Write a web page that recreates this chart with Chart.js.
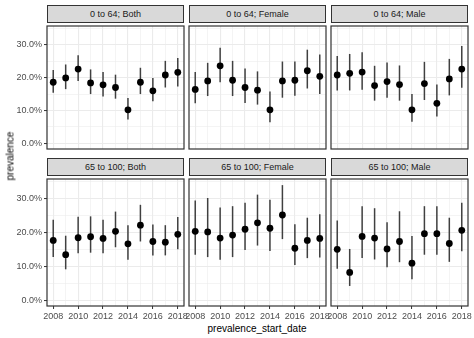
<!DOCTYPE html>
<html>
<head>
<meta charset="utf-8">
<script src="https://cdn.jsdelivr.net/npm/chart.js@4.4.0/dist/chart.umd.min.js"></script>
<style>
  body { margin: 0; width: 474px; height: 338px; background: #fff; position: relative; overflow: hidden;
         font-family: "Liberation Sans", Arial, sans-serif; }
  canvas { position: absolute; }
  .strip { position: absolute; box-sizing: border-box; background: #d9d9d9; border: 1px solid #333;
           font-size: 9px; color: #1a1a1a; text-align: center; }
  .title { position: absolute; font-size: 10px; font-weight: normal; color: #000; white-space: nowrap; }
</style>
</head>
<body>
<script>
// data (prevalence in %)
const years = [2008, 2009, 2010, 2011, 2012, 2013, 2014, 2015, 2016, 2017, 2018];
const facetLabels = ['0 to 64; Both', '0 to 64; Female', '0 to 64; Male',
                     '65 to 100; Both', '65 to 100; Female', '65 to 100; Male'];

const both064Est = [18.6, 19.9, 22.6, 18.4, 17.8, 17.0, 10.2, 18.6, 16.0, 20.8, 21.6];
const both064Lo  = [15.4, 16.5, 19.0, 15.0, 14.3, 13.6, 7.3, 15.0, 12.8, 17.0, 17.3];
const both064Hi  = [22.3, 24.0, 26.8, 22.5, 21.7, 20.9, 13.8, 23.0, 19.9, 25.1, 26.0];

const female064Est = [16.4, 19.0, 23.6, 19.2, 17.0, 16.2, 10.2, 19.0, 19.2, 22.1, 20.4];
const female064Lo  = [12.2, 14.4, 18.6, 14.4, 12.3, 11.8, 6.4, 13.9, 14.5, 16.7, 15.0];
const female064Hi  = [21.7, 24.5, 29.1, 25.1, 22.8, 21.9, 15.8, 24.9, 24.9, 28.5, 27.0];

const male064Est = [20.8, 21.3, 21.7, 17.6, 18.8, 17.9, 10.2, 18.2, 12.2, 19.6, 22.6];
const male064Lo  = [16.1, 16.1, 16.3, 13.0, 13.9, 13.0, 6.6, 13.2, 8.2, 14.6, 16.9];
const male064Hi  = [26.6, 27.2, 27.7, 23.6, 24.6, 23.7, 15.0, 24.8, 17.9, 25.7, 29.6];

const both65Est = [17.6, 13.4, 18.4, 18.7, 18.2, 20.3, 16.6, 22.1, 17.3, 17.1, 19.4];
const both65Lo  = [12.7, 9.1, 13.8, 14.0, 13.8, 15.6, 11.9, 17.3, 13.2, 13.2, 15.0];
const both65Hi  = [23.7, 19.0, 24.6, 24.7, 23.7, 26.1, 22.1, 28.1, 22.3, 22.1, 24.5];

const female65Est = [20.3, 20.1, 18.3, 19.2, 20.9, 22.8, 21.2, 25.1, 15.3, 17.6, 18.2];
const female65Lo  = [13.4, 12.7, 11.9, 12.7, 14.8, 16.1, 14.5, 18.0, 10.4, 12.4, 12.6];
const female65Hi  = [29.4, 30.1, 27.3, 27.7, 28.7, 31.1, 29.6, 33.9, 22.4, 24.3, 25.3];

const male65Est = [15.0, 8.2, 18.8, 18.3, 15.1, 17.3, 10.9, 19.6, 19.6, 16.7, 20.6];
const male65Lo  = [9.3, 4.2, 12.4, 12.0, 9.7, 11.2, 6.2, 13.4, 13.4, 11.3, 14.4];
const male65Hi  = [23.5, 15.1, 27.7, 27.1, 23.0, 26.2, 18.9, 27.7, 27.7, 24.3, 28.7];

const yTicks = [0, 5, 10, 15, 20, 25, 30, 35];
const xTicks = years;

const facets = [
  [both064Est, both064Lo, both064Hi], [female064Est, female064Lo, female064Hi], [male064Est, male064Lo, male064Hi],
  [both65Est, both65Lo, both65Hi], [female65Est, female65Lo, female65Hi], [male65Est, male65Lo, male65Hi]
];

// layout
const PANEL_W = 137, PANEL_H = 131, STRIP_H = 17, PAD = 12;
const colLeft = [47, 189, 331];
const rowTop = [22, 175];
const Y_AXIS_W = 47, X_AXIS_H = 16;

// error bars + panel border
const panelPlugin = {
  id: 'panel',
  beforeDatasetsDraw(chart, args, opts) {
    const { ctx, scales: { x, y } } = chart;
    ctx.save();
    ctx.strokeStyle = '#404040';
    ctx.lineWidth = 1.5;
    opts.lo.forEach((lo, i) => {
      const px = x.getPixelForValue(years[i]);
      ctx.beginPath();
      ctx.moveTo(px, y.getPixelForValue(lo));
      ctx.lineTo(px, y.getPixelForValue(opts.hi[i]));
      ctx.stroke();
    });
    ctx.restore();
  },
  afterDraw(chart) {
    const { ctx, chartArea: a } = chart;
    ctx.save();
    ctx.strokeStyle = '#333';
    ctx.lineWidth = 1.2;
    ctx.strokeRect(a.left, a.top, a.right - a.left, a.bottom - a.top);
    ctx.restore();
  }
};

function makePanel(idx) {
  const row = Math.floor(idx / 3), col = idx % 3;
  const showY = col === 0, showX = row === 1;
  const yW = showY ? Y_AXIS_W : 0, xH = showX ? X_AXIS_H : 0;
  const [est, lo, hi] = facets[idx];

  const strip = document.createElement('div');
  strip.className = 'strip';
  strip.style.left = colLeft[col] + 'px';
  strip.style.top = (rowTop[row] - STRIP_H) + 'px';
  strip.style.width = PANEL_W + 'px';
  strip.style.height = (STRIP_H + 1) + 'px';
  strip.style.lineHeight = (STRIP_H - 1) + 'px';
  strip.textContent = facetLabels[idx];
  document.body.appendChild(strip);

  const cv = document.createElement('canvas');
  cv.width = PAD + yW + PANEL_W + PAD;
  cv.height = PANEL_H + xH;
  cv.style.left = (colLeft[col] - yW - PAD) + 'px';
  cv.style.top = rowTop[row] + 'px';
  document.body.appendChild(cv);

  new Chart(cv, {
    type: 'scatter',
    data: {
      datasets: [{
        data: years.map((yr, i) => ({ x: yr, y: est[i] })),
        pointRadius: 3.4,
        pointBackgroundColor: '#000',
        pointBorderWidth: 0
      }]
    },
    plugins: [panelPlugin],
    options: {
      responsive: false,
      animation: false,
      devicePixelRatio: 1,
      layout: { padding: { left: PAD, right: PAD, top: 0, bottom: 0 } },
      plugins: { legend: { display: false }, tooltip: { enabled: false }, panel: { lo: lo, hi: hi } },
      scales: {
        x: {
          type: 'linear',
          min: 2007.5,
          max: 2018.5,
          afterBuildTicks: s => { s.ticks = xTicks.map(v => ({ value: v })); },
          afterFit: s => { s.height = xH; s.paddingLeft = 0; s.paddingRight = 0; },
          border: { display: false },
          grid: {
            color: '#ebebeb',
            lineWidth: c => (c.tick && c.tick.value % 2 === 0) ? 1.1 : 0.55,
            drawTicks: showX,
            tickLength: 3,
            tickWidth: 1,
            tickColor: c => (c.tick && c.tick.value % 2 === 0) ? '#333' : 'rgba(0,0,0,0)'
          },
          ticks: {
            display: showX,
            autoSkip: false,
            maxRotation: 0,
            padding: 2,
            color: '#4d4d4d',
            font: { family: '"Liberation Sans", Arial, sans-serif', size: 9 },
            callback: v => (v % 2 === 0 ? String(v) : '')
          }
        },
        y: {
          min: -1.7,
          max: 35.7,
          afterBuildTicks: s => { s.ticks = yTicks.map(v => ({ value: v })); },
          afterFit: s => { s.width = yW; s.paddingTop = 0; s.paddingBottom = 0; },
          border: { display: false },
          grid: {
            color: '#ebebeb',
            lineWidth: c => (c.tick && c.tick.value % 10 === 0) ? 1.1 : 0.55,
            drawTicks: showY,
            tickLength: 3,
            tickWidth: 1,
            tickColor: c => (c.tick && c.tick.value % 10 === 0) ? '#333' : 'rgba(0,0,0,0)'
          },
          ticks: {
            display: showY,
            autoSkip: false,
            padding: 2,
            color: '#4d4d4d',
            font: { family: '"Liberation Sans", Arial, sans-serif', size: 9 },
            callback: v => (v % 10 === 0 ? v.toFixed(1) + '%' : '')
          }
        }
      }
    }
  });
}

for (let i = 0; i < 6; i++) makePanel(i);

// axis titles
const xTitle = document.createElement('div');
xTitle.className = 'title';
xTitle.textContent = 'prevalence_start_date';
xTitle.style.left = '257px';
xTitle.style.top = '328px';
xTitle.style.transform = 'translate(-50%, -50%)';
document.body.appendChild(xTitle);

const yTitle = document.createElement('div');
yTitle.className = 'title';
yTitle.textContent = 'prevalence';
yTitle.style.left = '10px';
yTitle.style.top = '156px';
yTitle.style.transform = 'translate(-50%, -50%) rotate(-90deg)';
document.body.appendChild(yTitle);
</script>
</body>
</html>
